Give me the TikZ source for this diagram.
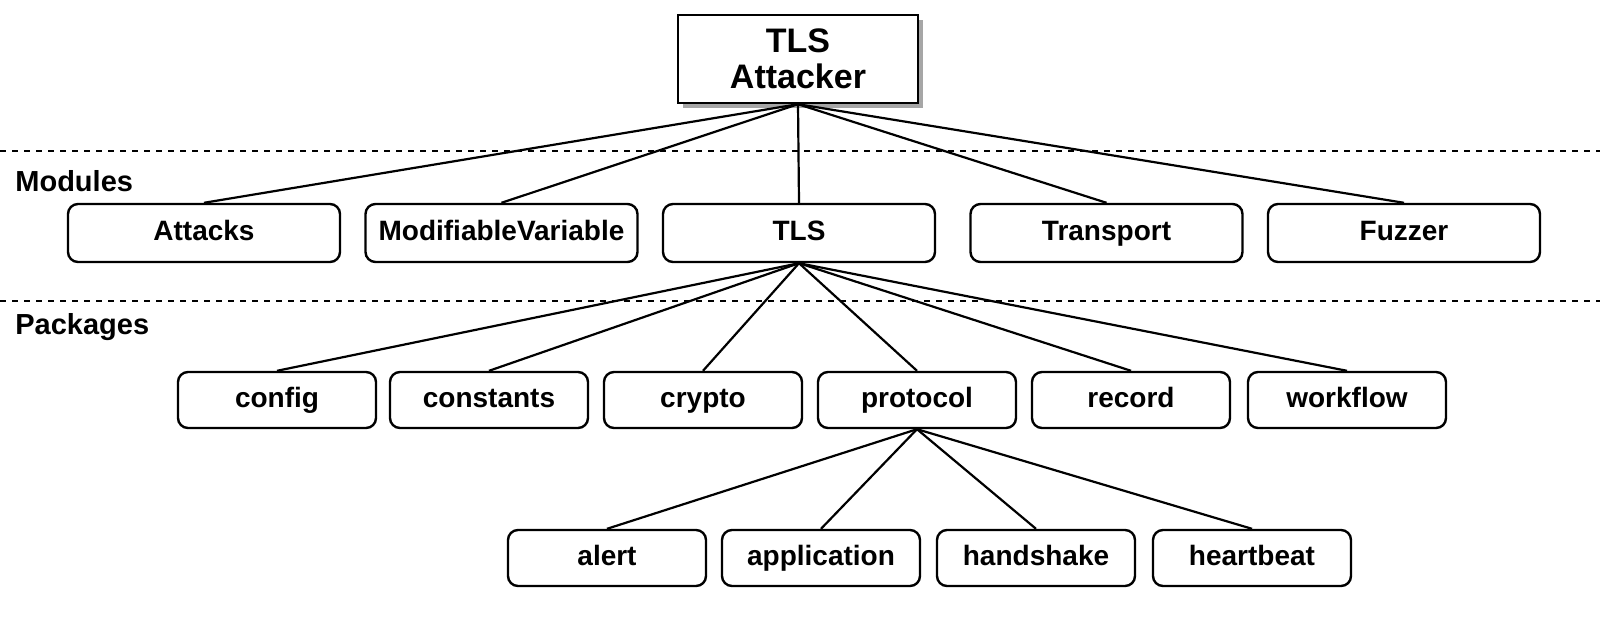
\documentclass[tikz,border=0pt]{standalone}
\usepackage{fontspec}
\setmainfont{Liberation Sans}
\begin{document}
\begin{tikzpicture}[x=0.5pt,y=-0.5pt,
 box/.style={draw,line width=1.2pt,rounded corners=5pt,fill=white,inner sep=0pt,text height=10pt,text depth=3pt,font=\bfseries\fontsize{14}{16}\selectfont},
 edge/.style={line width=1.1pt}]
\useasboundingbox (0,0) rectangle (1600,616);
\fill[gray!70] (683,20) rectangle (923,108);
\node[draw,line width=1.2pt,fill=white,minimum width=120pt,minimum height=44pt,inner sep=0pt,align=center,font=\bfseries\fontsize{17}{18}\selectfont] (top) at (798,59) {TLS\\Attacker};
\draw[dashed,line width=0.8pt] (0,151) -- (1600,151);
\draw[dashed,line width=0.8pt] (0,301) -- (1600,301);
\node[anchor=west,inner sep=0pt,font=\bfseries\fontsize{14.5}{16}\selectfont] (lm) at (15,181) {Modules};
\node[anchor=west,inner sep=0pt,font=\bfseries\fontsize{14.5}{16}\selectfont] (lp) at (15,327) {Packages};
\foreach \n/\t/\x in {m1/Attacks/204, m2/ModifiableVariable/501.5, m3/TLS/799, m4/Transport/1106.5, m5/Fuzzer/1404}
 \node[box,minimum width=136pt,minimum height=29pt] (\n) at (\x,233) {\t};
\foreach \n/\t/\x in {p1/config/277, p2/constants/489, p3/crypto/703, p4/protocol/917, p5/record/1131, p6/workflow/1347}
 \node[box,minimum width=99pt,minimum height=28pt] (\n) at (\x,400) {\t};
\foreach \n/\t/\x in {b1/alert/607, b2/application/821, b3/handshake/1036, b4/heartbeat/1252}
 \node[box,minimum width=99pt,minimum height=28pt] (\n) at (\x,558) {\t};
\foreach \n in {m1,m2,m3,m4,m5} \draw[edge] (top.south) -- (\n.north);
\foreach \n in {p1,p2,p3,p4,p5,p6} \draw[edge] (m3.south) -- (\n.north);
\foreach \n in {b1,b2,b3,b4} \draw[edge] (p4.south) -- (\n.north);
\end{tikzpicture}
\end{document}
